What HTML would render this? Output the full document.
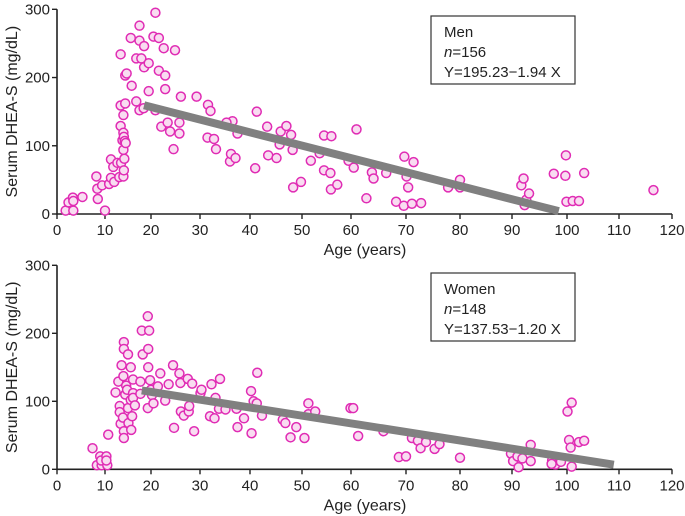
<!DOCTYPE html>
<html><head><meta charset="utf-8"><style>
html,body{margin:0;padding:0;background:#fff;}
svg{display:block;font-family:"Liberation Sans",sans-serif;}
</style></head><body>
<svg id="chart" width="685" height="516" viewBox="0 0 685 516"></svg>
<script>
// x tick values
const xTicks = [0,10,20,30,40,50,60,70,80,90,100,110,120];
const yTicks = [0,100,200,300];
// Men data
const menAge = [1.8,2.4,3.3,3.4,3.4,5.3,8.2,8.4,8.5,9.4,10,10.9,11.3,11.3,11.8,12.0,12.7,13.1,13.4,13.4,13.4,13.5,13.8,14.0,14.0,14.1,14.0,14.0,14.1,14.3,14.4,14.4,14.5,14.2,14.7,15.8,15.6,16.8,16.8,17.5,17.5,17.9,18.4,18.5,18.5,19.5,19.5,17.5,20.5,20.9,20.9,21.6,21.6,22.1,22.6,22.9,22.9,23.4,23.9,24.6,24.9,25.8,25.8,26.1,29.3,31.6,31.5,32.1,32.8,33.2,36.0,36.2,36.5,37.1,37.5,35.3,41.0,41.3,43.3,43.5,45.1,45.7,45.9,47.0,47.9,48.2,48.3,49.8,51.8,53.6,54.5,54.5,55.8,56.0,55.9,57.2,59.5,61.0,60.5,62.8,63.8,64.1,66.4,68.2,69.6,69.7,70.1,70.4,71.1,71.4,72.8,77.8,80.0,80.0,91.7,92.1,92.3,92.6,93.1,97.6,99.8,99.7,99.9,101.1,102.3,103.3,116.5];
const menVal = [5,17,24,19,5,25,55,37,22,42,5,44,53,80,69,47,75,54,129,159,234,75,108,94,55,64,119,145,113,107,203,162,104,81,206,188,258,165,228,152,254,228,155,215,246,221,180,276,260,295,152,210,258,128,243,203,183,134,121,95,240,134,118,172,172,160,112,151,110,95,77,88,136,82,118,134,67,150,128,86,82,102,121,129,116,94,39,47,78,89,64,115,60,114,36,43,78,124,68,23,61,52,60,18,12,84,55,39,15,76,16,39,50,39,42,52,13,21,30,59,86,56,18,19,19,60,35];
// Women data
const womenAge = [7.4,8.3,9.0,9.3,9.2,10.3,10.5,10.3,10.7,12.3,12.9,13.2,13.2,13.4,13.6,14.0,13.9,14.1,14.1,14.1,14.1,14.4,14.6,14.8,15.0,15.0,15.1,15.6,15.6,15.7,15.9,16.1,16.1,16.1,16.5,17.7,17.7,18.0,18.2,19.3,19.6,19.4,19.4,19.3,19.8,20.0,20.2,20.5,21.4,21.9,22.9,23.6,24.5,24.7,25.8,26.0,26.1,26.7,27.5,27.7,27.8,28.4,28.8,30.1,30.3,32.0,32.3,32.9,33.1,33.8,34.0,35.1,37.3,37.5,38.8,40.2,40.3,40.7,41.3,41.4,42.3,46.3,46.8,47.8,48.9,50.5,51.3,51.3,52.7,59.9,60.4,61.3,65.9,71.1,72.2,72.7,73.7,75.3,76.2,68.7,70.0,80.0,89.8,90.2,91.0,91.2,91.9,93.4,93.4,97.3,97.9,98.9,97.2,100.1,100.9,100.4,100.7,102.3,103.3,100.9];
const womenVal = [31,6,19,6,13,19,6,13,51,113,129,93,84,67,153,137,76,187,177,56,46,110,123,117,169,90,68,150,102,58,78,132,112,105,94,129,111,204,169,225,204,177,150,90,131,117,109,97,122,141,101,125,153,61,141,127,85,79,133,85,93,126,56,112,117,78,125,75,105,89,133,88,89,62,75,115,53,100,97,142,79,73,68,47,62,46,97,81,85,90,90,49,56,46,42,31,40,30,37,18,19,17,23,12,19,3,16,12,36,13,7,11,8,85,98,43,32,40,42,4];
// regression fits: [intercept, slope, xStart, xEnd]
const menFit = [195.23, -1.94, 18.5, 98.5];
const womenFit = [137.53, -1.20, 18, 109];

const NS = "http://www.w3.org/2000/svg";
const svg = document.getElementById('chart');
function mk(tag, attrs, parent){
  const e = document.createElementNS(NS, tag);
  for (const k in attrs) e.setAttribute(k, attrs[k]);
  (parent||svg).appendChild(e);
  return e;
}
// axis x (piecewise to follow the reference's uneven ticks)
const xPix = [57,105,151,200,250,302,351,406,460,512,567,619,672];
function xs(v){
  for (let i=0;i<xTicks.length-1;i++){
    if (v<=xTicks[i+1] || i===xTicks.length-2){
      const t=(v-xTicks[i])/(xTicks[i+1]-xTicks[i]);
      return xPix[i]+t*(xPix[i+1]-xPix[i]);
    }
  }
}
function panel(name, y0, y300, ages, vals, fit, label, n, eq, boxY){
  const g = mk('g', {});
  
  
  const ys = v => y0 + (y300-y0)*v/300;
  // axes
  const ax = mk('path', {d:`M57 ${y300} V${y0} H672`, stroke:'#222', 'stroke-width':1.6, fill:'none'}, g);
  
  
  xTicks.forEach(t=>{
    mk('line',{x1:xs(t),x2:xs(t),y1:y0,y2:y0+5,stroke:'#222','stroke-width':1.4},g);
    const tx = mk('text',{x:xs(t),y:y0+21,'text-anchor':'middle','font-size':15,fill:'#222'},g);
    tx.textContent = t;
    
    
  });
  yTicks.forEach(t=>{
    mk('line',{x1:52,x2:57,y1:ys(t),y2:ys(t),stroke:'#222','stroke-width':1.4},g);
    const tx = mk('text',{x:50,y:ys(t)+5,'text-anchor':'end','font-size':15,fill:'#222'},g);
    tx.textContent = t;
    
    
  });
  const xt = mk('text',{x:365,y:y0+41,'text-anchor':'middle','font-size':16,fill:'#222'},g);
  xt.textContent = 'Age (years)';
  
  
  const cy=(y0+y300)/2;
  const yt = mk('text',{x:0,y:0,transform:`translate(17 ${cy}) rotate(-90)`,'text-anchor':'middle','font-size':16,fill:'#222'},g);
  yt.textContent = 'Serum DHEA-S (mg/dL)';
  
  
  // points
  ages.forEach((a,i)=>{
    const c = mk('circle',{cx:xs(a),cy:ys(vals[i]),r:4.5,fill:'#f9dcf1',stroke:'#e02cb4','stroke-width':1.5},g);
    
    
  });
  // regression line
  const [b,m,xa,xb] = fit;
  const rl = mk('line',{x1:xs(xa),y1:ys(b+m*xa),x2:xs(xb),y2:ys(b+m*xb),stroke:'#808080','stroke-width':8},g);
  
  
  // legend box
  const lg = mk('g',{},g);
  
  
  mk('rect',{x:431,y:boxY,width:144,height:68,fill:'#fff',stroke:'#333','stroke-width':1.2},lg);
  const t1 = mk('text',{x:444,y:boxY+21,'font-size':15,fill:'#222'},lg); t1.textContent = label;
  const t2 = mk('text',{x:444,y:boxY+41,'font-size':15,fill:'#222'},lg);
  t2.innerHTML = '<tspan font-style="italic">n</tspan>=' + n;
  const t3 = mk('text',{x:444,y:boxY+61,'font-size':15,fill:'#222'},lg); t3.textContent = eq;
}
panel('men', 214, 9.3, menAge, menVal, menFit, 'Men', 156, 'Y=195.23\u22121.94 X', 16);
panel('women', 469.3, 265.3, womenAge, womenVal, womenFit, 'Women', 148, 'Y=137.53\u22121.20 X', 273);
</script>
</body></html>
